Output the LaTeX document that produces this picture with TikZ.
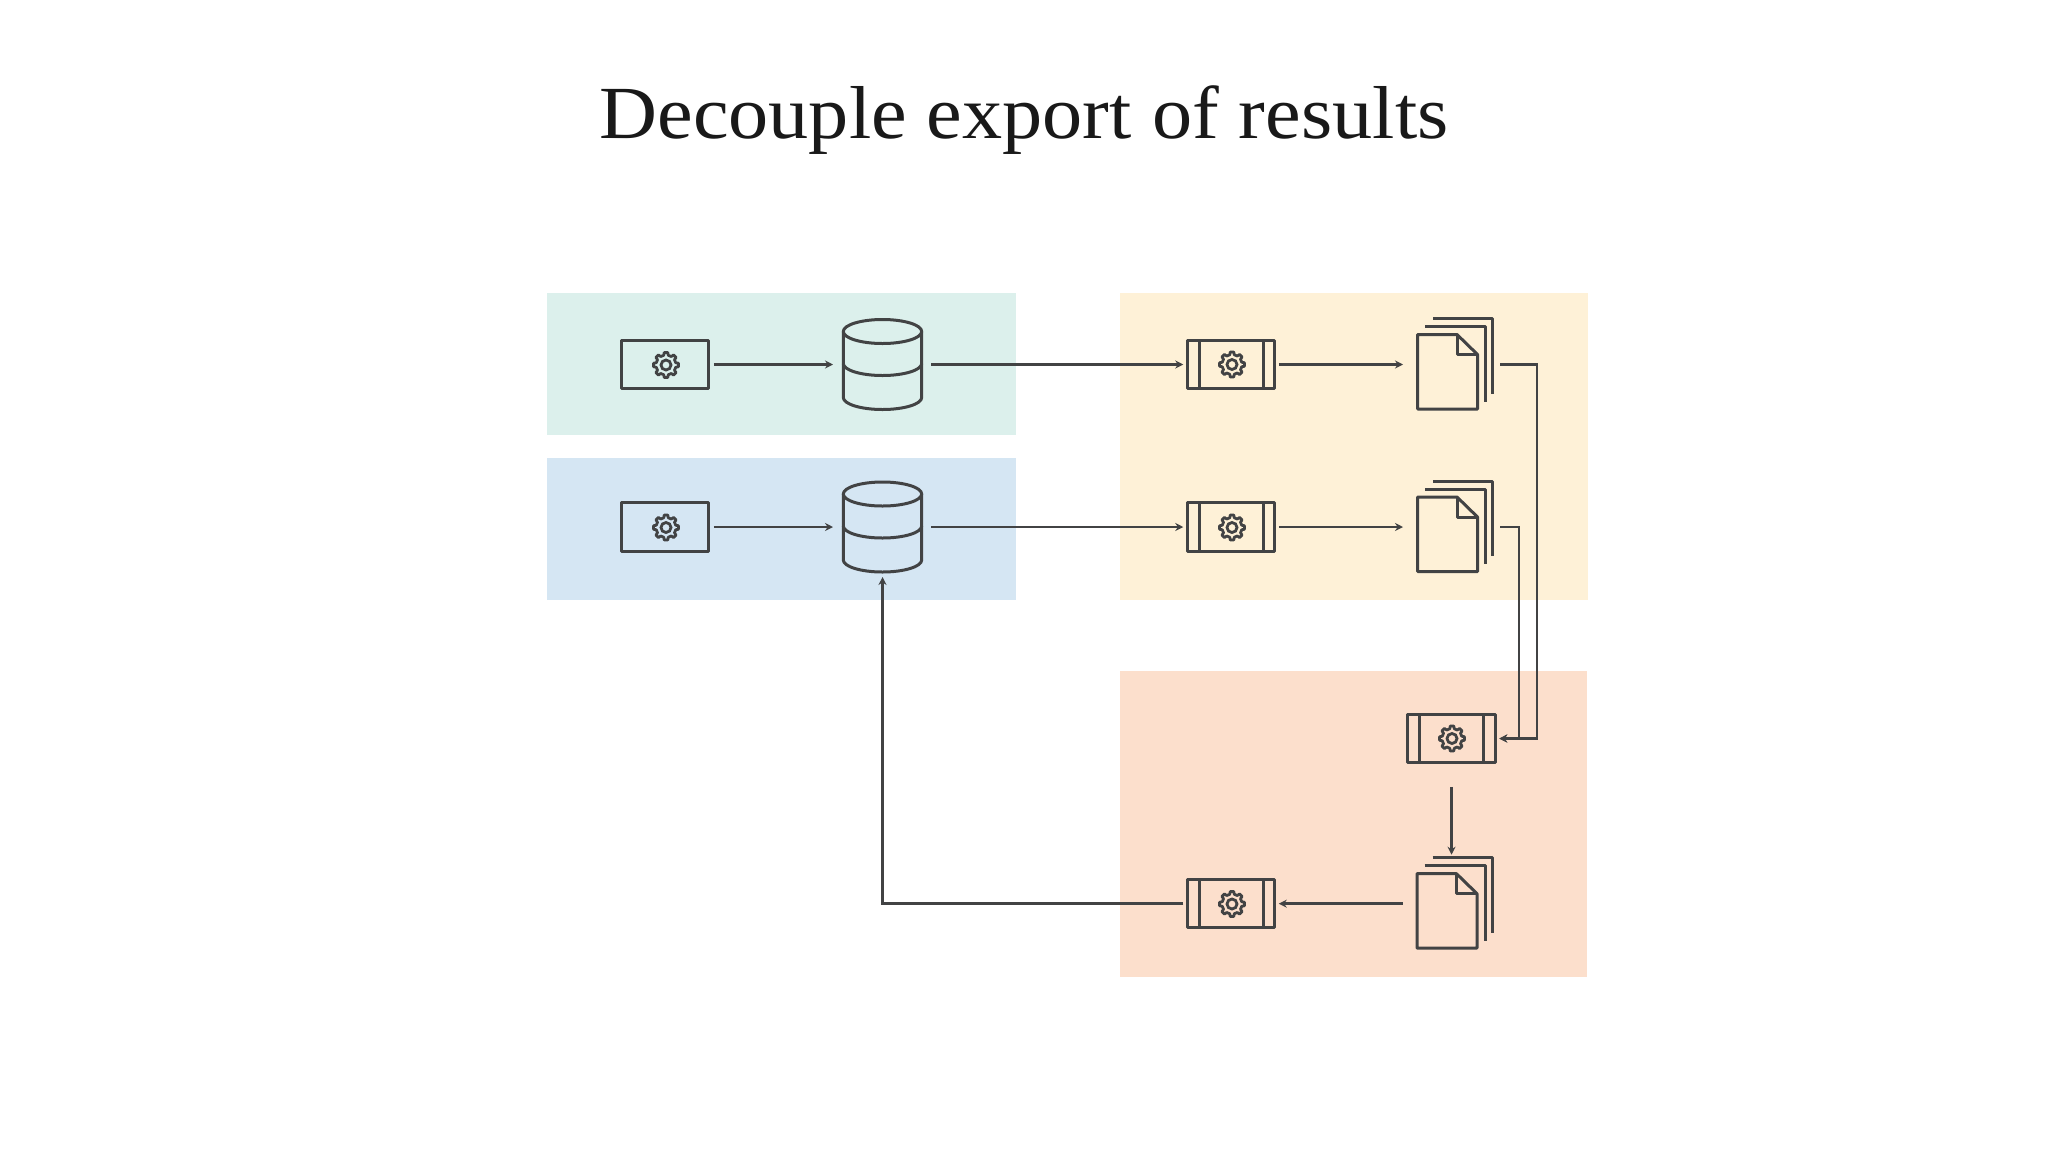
\documentclass[tikz,border=0pt]{standalone}
\usepackage{fontspec}
\setmainfont[FakeStretch=1.07]{Liberation Serif}
\usetikzlibrary{arrows.meta}
\definecolor{ink}{HTML}{424344}
\definecolor{zgreen}{HTML}{DCF0EC}
\definecolor{zblue}{HTML}{D5E6F3}
\definecolor{zyellow}{HTML}{FEF1D7}
\definecolor{zorange}{HTML}{FCDFCC}
\newcommand{\halfell}[1]{(-39.2,#1) .. controls (-39.2,#1+6.6) and (-21.6,#1+12) .. (0,#1+12) .. controls (21.6,#1+12) and (39.2,#1+6.6) .. (39.2,#1)}
\tikzset{
  icon/.style={draw=ink,line width=3pt,line join=round},
  procbox/.style={icon,rectangle,minimum width=87.5pt,minimum height=48.5pt,inner sep=0pt,outer sep=0pt},
  cylbox/.style={rectangle,minimum width=79pt,minimum height=92pt,inner sep=0pt,outer sep=0pt},
  docbox/.style={rectangle,minimum width=76pt,minimum height=92pt,inner sep=0pt,outer sep=0pt},
  conn/.style={draw=ink,line width=2.5pt,-{Stealth[length=8pt,width=8pt]}},
  plainzone/.style={inner sep=0pt},
  pics/gear/.style={code={
    \draw[draw=ink,line width=2.8pt,line join=round] (-13:10)
      \foreach \a in {0,45,...,315}{ -- (\a-13:10) -- (\a-8:12.6) -- (\a+8:12.6) -- (\a+13:10)} -- cycle;
    \draw[draw=ink,line width=2.8pt] (0,0) circle[radius=5];
  }},
  pics/bars/.style={code={
    \draw[icon] (-32,-24) -- (-32,24) (32,-24) -- (32,24);
  }},
  pics/cylinder/.style={code={
    \draw[icon] \halfell{-33} .. controls (39.2,-39.6) and (21.6,-45) .. (0,-45) .. controls (-21.6,-45) and (-39.2,-39.6) .. (-39.2,-33) -- cycle;
    \draw[icon] \halfell{-1};
    \draw[icon] (-39.2,-33) -- (-39.2,33) .. controls (-39.2,39.6) and (-21.6,45) .. (0,45) .. controls (21.6,45) and (39.2,39.6) .. (39.2,33) -- (39.2,-33);
  }},
  pics/docs/.style={code={
    \draw[icon] (2,-30) -- (-37.5,-30) -- (-37.5,44.5) -- (22.5,44.5) -- (22.5,-10) -- cycle;
    \draw[icon] (2,-30) -- (2,-10) -- (22.5,-10);
    \draw[icon] (-30,-38) -- (30.5,-38) -- (30.5,37);
    \draw[icon] (-22,-46) -- (37.5,-46) -- (37.5,29);
  }},
}
\begin{document}
\begin{tikzpicture}[x=1pt,y=-1pt]
\useasboundingbox (0,0) rectangle (2048,1152);
\fill[white] (0,0) rectangle (2048,1152);
\node[anchor=base,text=black!90,font=\fontsize{75}{80}\selectfont,plainzone] (title) at (1024,138) {Decouple export of results};

\fill[zgreen] (547,293) rectangle (1015.5,434.5);
\fill[zblue] (547,458) rectangle (1015.5,600);
\fill[zyellow] (1120,293) rectangle (1588,600);
\fill[zorange] (1120,671) rectangle (1587,977);

% row 1
\node[procbox] (a1) at (665,364.5) {};
\pic at (666,365) {gear};
\node[cylbox] (c1) at (882.5,364.5) {};
\pic at (c1) {cylinder};
\node[procbox] (p1) at (1231,364.5) {};
\pic at (p1) {bars};
\pic at (1232,364.5) {gear};
\node[docbox] (d1) at (1455,364.5) {};
\pic at (d1) {docs};
% row 2
\node[procbox] (a2) at (665,527) {};
\pic at (666,527.5) {gear};
\node[cylbox] (c2) at (882.5,527) {};
\pic at (c2) {cylinder};
\node[procbox] (p2) at (1231,527) {};
\pic at (p2) {bars};
\pic at (1232,527.5) {gear};
\node[docbox] (d2) at (1455,527) {};
\pic at (d2) {docs};
% orange zone
\node[procbox] (p3) at (1451.5,738.5) {};
\pic at (p3) {bars};
\pic at (1452,738.5) {gear};
\node[docbox] (d3) at (1454.5,903.7) {};
\pic at (d3) {docs};
\node[procbox] (p4) at (1231,903.7) {};
\pic at (p4) {bars};
\pic at (1232,904) {gear};

\coordinate (b1) at (1537,738.5);
\coordinate (b2) at (1519,738.5);

\draw[conn,shorten <=5pt,shorten >=10pt] (a1.east) -- (c1.west);
\draw[conn,shorten <=5pt,shorten >=10pt] (a2.east) -- (c2.west);
\draw[conn,shorten <=9pt,shorten >=4pt] (c1.east) -- (p1.west);
\draw[conn,shorten <=9pt,shorten >=4pt] (c2.east) -- (p2.west);
\draw[conn,shorten <=4pt,shorten >=14pt] (p1.east) -- (d1.west);
\draw[conn,shorten <=4pt,shorten >=14pt] (p2.east) -- (d2.west);
\draw[conn,shorten <=7pt,shorten >=4pt] (d1.east) -| (b1) -- (p3.east);
\draw[conn,shorten <=7pt,shorten >=4pt] (d2.east) -| (b2) -- (p3.east);
\draw[conn,shorten <=24pt,shorten >=3pt] (p3.south) -- (p3.south |- d3.north);
\draw[conn,shorten <=14pt,shorten >=4pt] (d3.west) -- (p4.east);
\draw[conn,shorten <=4pt,shorten >=4pt] (p4.west) -| (c2.south);
\end{tikzpicture}
\end{document}
